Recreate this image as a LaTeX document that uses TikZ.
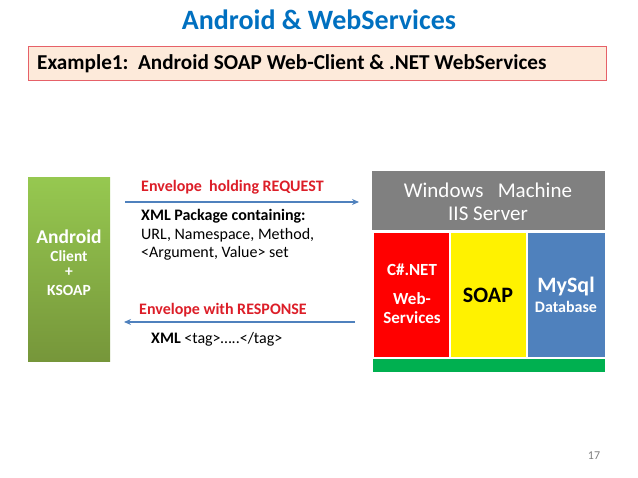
\documentclass[tikz,border=0pt]{standalone}
\usepackage{fontspec}
\usetikzlibrary{arrows.meta}
\setmainfont{Carlito}
\definecolor{tblue}{RGB}{0,112,192}
\definecolor{peach}{RGB}{253,234,218}
\definecolor{ared}{RGB}{220,30,40}
\definecolor{sblue}{RGB}{79,129,189}
\definecolor{gtop}{RGB}{150,200,80}
\definecolor{gbot}{RGB}{118,150,58}
\definecolor{sgreen}{RGB}{0,176,80}
\definecolor{sgray}{RGB}{128,128,128}
\begin{document}
\begin{tikzpicture}[x=1pt,y=-1pt,
  lbl/.style={anchor=west,inner sep=0pt,font=\fontsize{16}{19}\selectfont},
  redlbl/.style={lbl,text=ared,font=\fontsize{16}{19}\selectfont\bfseries},
  wt/.style={text=white,font=\bfseries,inner sep=0pt},
  arr/.style={sblue,line width=1.2pt,-{Stealth[length=7pt,width=6pt]}}]
\useasboundingbox (0,0) rectangle (638,478);
\node[text=tblue,font=\fontsize{28}{32}\selectfont\bfseries] (title) at (319,20) {Android \& WebServices};
\node[draw=ared!70,line width=0.6pt,fill=peach,minimum width=578,minimum height=34,inner sep=0pt] (ex) at (317,63) {};
\node[anchor=west,inner sep=0pt,font=\fontsize{21.2}{24}\selectfont\bfseries] (ext) at (37,64) {Example1:\ \ Android SOAP Web-Client \& .NET WebServices};
\shade[top color=gtop,bottom color=gbot] (28,178) rectangle (110,362);
\node[wt,font=\fontsize{19.5}{23}\selectfont\bfseries] (a1) at (69,237) {Android};
\node[wt,font=\fontsize{15.5}{19}\selectfont\bfseries] (a2) at (69,256) {Client};
\node[wt,font=\fontsize{15.5}{19}\selectfont\bfseries] (a3) at (69,272) {+};
\node[wt,font=\fontsize{15.5}{19}\selectfont\bfseries] (a4) at (69,290) {KSOAP};
\coordinate (r1) at (125,202); \coordinate (r2) at (359,202);
\draw[arr] (r1) -- (r2);
\coordinate (s1) at (355,322); \coordinate (s2) at (124,322);
\draw[arr] (s1) -- (s2);
\node[redlbl] (rq) at (141,187) {Envelope\ \ holding REQUEST};
\node[lbl,font=\fontsize{16}{19}\selectfont\bfseries] (x1) at (141,216) {XML Package containing:};
\node[lbl] (x2) at (141,235) {URL, Namespace, Method,};
\node[lbl] (x3) at (141,253) {<Argument, Value> set};
\node[redlbl] (rs) at (139,310) {Envelope with RESPONSE};
\node[lbl] (x4) at (151,339) {\textbf{XML} <tag>…..</tag>};
\fill[sgray] (372,171) rectangle (605,230);
\node[text=white,font=\fontsize{21}{25}\selectfont,inner sep=0pt] (w1) at (488,190) {Windows\ \ \ Machine};
\node[text=white,font=\fontsize{21}{25}\selectfont,inner sep=0pt] (w2) at (488,214) {IIS Server};
\fill[red] (374,233) rectangle (449,357);
\fill[yellow] (451,233) rectangle (526,357);
\fill[sblue] (528,233) rectangle (605,357);
\fill[sgreen] (373,359) rectangle (605,372);
\node[wt,font=\fontsize{17}{20}\selectfont\bfseries] (c1) at (412,270) {C\#.NET};
\node[wt,font=\fontsize{17}{20}\selectfont\bfseries] (c2) at (412,299) {Web-};
\node[wt,font=\fontsize{17}{20}\selectfont\bfseries] (c3) at (412,318) {Services};
\node[font=\fontsize{22}{26}\selectfont\bfseries,inner sep=0pt] (soap) at (488,295) {SOAP};
\node[wt,font=\fontsize{22}{26}\selectfont\bfseries] (m1) at (566,287) {MySql};
\node[wt,font=\fontsize{16}{19}\selectfont\bfseries] (m2) at (566,307) {Database};
\node[text=gray,font=\fontsize{12}{14}\selectfont,inner sep=0pt] (pg) at (594,456) {17};
\end{tikzpicture}
\end{document}
